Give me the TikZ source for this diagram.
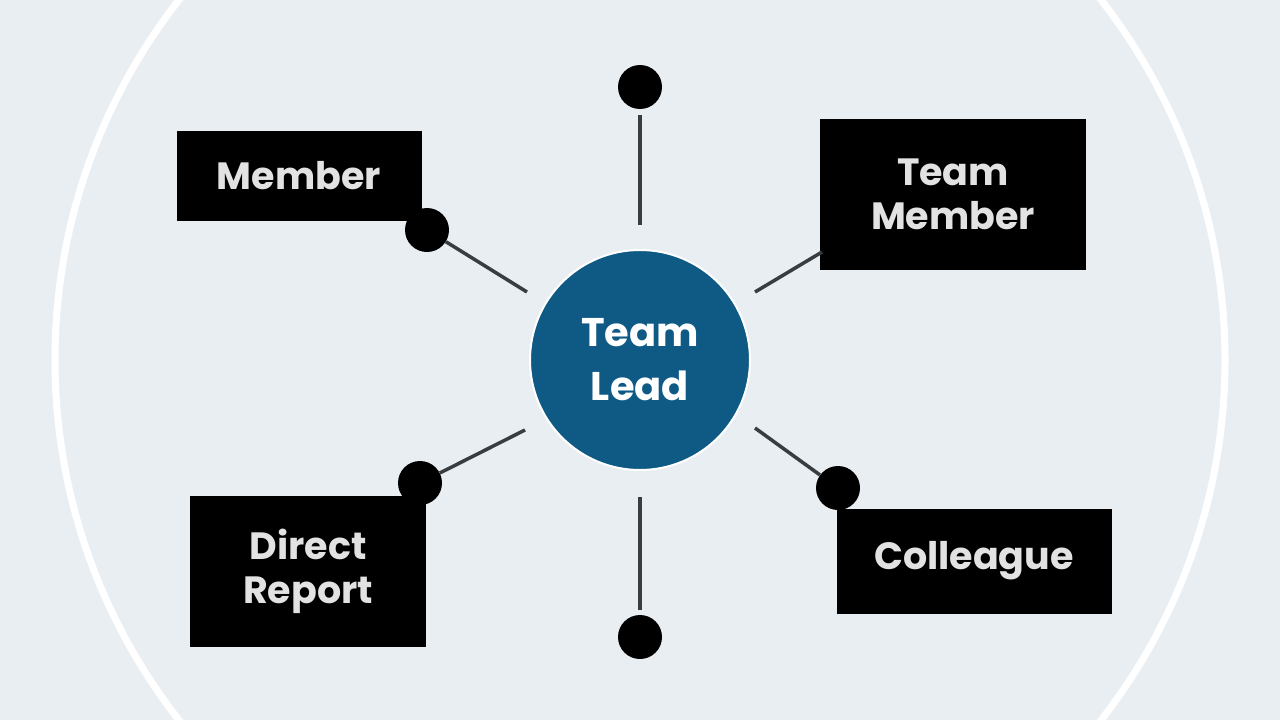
\documentclass[tikz,border=0pt]{standalone}
\usepackage{fontspec}
\setmainfont{Poppins}
\definecolor{bg}{HTML}{E9EEF2}
\definecolor{hub}{HTML}{0E5A85}
\definecolor{txt}{HTML}{E2E2E2}
\definecolor{ln}{HTML}{3A3D40}
\begin{document}
\begin{tikzpicture}[x=1pt,y=-1pt,
  box/.style={fill=black,draw=black,line width=3pt,text=txt,font=\fontsize{38}{44}\selectfont\bfseries,align=center,inner sep=0pt},
  dot/.style={circle,fill=black,minimum size=44pt,inner sep=0pt},
  spoke/.style={ln,line width=3.5pt}]
\useasboundingbox (0,0) rectangle (1280,720);
\fill[bg] (0,0) rectangle (1280,720);
\begin{scope}
\clip (0,0) rectangle (1280,720);
\draw[white,line width=7pt] (640,360) circle (585);
\end{scope}
\node[circle,fill=hub,draw=white,line width=2pt,minimum size=220pt,text=white,align=center,font=\fontsize{40}{54}\selectfont\bfseries] (hub) at (640,360) {Team\\Lead};
% boxes
\node[box,minimum width=242pt,minimum height=87pt] (m) at (299,176) {Member};
\node[box,minimum width=263pt,minimum height=148pt] (tm) at (953,194) {Team\\Member};
\node[box,minimum width=233pt,minimum height=148pt] (dr) at (308,571) {Direct\\Report};
\node[box,minimum width=272pt,minimum height=102pt] (c) at (974,561) {Colleague};
% dots
\node[dot] (dt) at (640,87) {};
\node[dot] (db) at (640,637) {};
\node[dot] (dul) at (427,230) {};
\node[dot] (dll) at (420,483) {};
\node[dot] (dlr) at (838,488) {};
\coordinate (ct) at (640,115); \coordinate (ct2) at (640,225);
\coordinate (cb) at (640,497); \coordinate (cb2) at (640,610);
\coordinate (cul) at (527,292); \coordinate (cur) at (755,292);
\coordinate (cll) at (525,430); \coordinate (clr) at (755,428);
\coordinate (eur) at (822,252);
\draw[spoke] (ct) -- (ct2);
\draw[spoke] (cb) -- (cb2);
\draw[spoke] (cul) -- (dul);
\draw[spoke] (cur) -- (eur);
\draw[spoke] (cll) -- (dll);
\draw[spoke] (clr) -- (dlr);
\end{tikzpicture}
\end{document}
